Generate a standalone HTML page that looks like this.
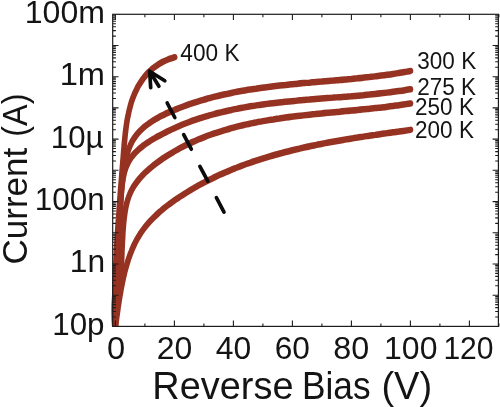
<!DOCTYPE html>
<html lang="en"><head><meta charset="utf-8"><title>Current vs Reverse Bias</title>
<style>html,body{margin:0;padding:0;background:#fff}svg{display:block}</style></head>
<body>
<svg width="500" height="407" viewBox="0 0 500 407">
<rect width="500" height="407" fill="#fff"/>
<clipPath id="pc"><rect x="100" y="0" width="400" height="326.7"/></clipPath>
<g clip-path="url(#pc)"><g fill="none" stroke="#963222" stroke-width="5.6" stroke-linecap="round" stroke-linejoin="round" transform="scale(1,1.1607)">
<path d="M174.7,49.3C173.7,49.6 170.5,50.4 168.6,51.0C166.6,51.7 164.7,52.4 162.9,53.2C161.1,54.0 159.4,54.8 157.8,55.8C156.1,56.7 154.6,57.7 153.1,58.7C151.6,59.8 150.2,60.9 148.8,62.0C147.5,63.2 146.2,64.4 145.0,65.7C143.8,66.9 142.7,68.2 141.7,69.5C140.6,70.9 139.6,72.2 138.7,73.6C137.7,75.0 136.9,76.5 136.1,77.9C135.2,79.4 134.5,80.9 133.8,82.4C133.1,83.9 132.4,85.4 131.8,87.0C131.2,88.5 130.7,90.1 130.2,91.7C129.7,93.3 129.2,94.9 128.8,96.6C128.4,98.2 128.0,99.9 127.6,101.5C127.2,103.2 126.9,104.9 126.6,106.6C126.3,108.3 126.0,110.0 125.8,111.7C125.5,113.4 125.3,115.1 125.1,116.8C124.9,118.5 124.7,120.3 124.5,122.0C124.3,123.7 124.1,125.5 124.0,127.2C123.8,128.9 123.6,130.7 123.5,132.4C123.3,134.1 123.2,135.8 123.0,137.6C122.8,139.3 122.7,141.0 122.5,142.7C122.4,144.4 122.2,146.1 122.0,147.8C121.9,149.5 121.7,151.3 121.6,153.0C121.4,154.7 121.3,156.3 121.1,158.0C120.9,159.7 120.8,161.4 120.6,163.1C120.5,164.8 120.3,166.5 120.2,168.2C120.0,169.9 119.9,171.5 119.7,173.2C119.6,174.9 119.4,176.6 119.3,178.3C119.2,179.9 119.0,181.6 118.9,183.3C118.7,185.0 118.6,186.6 118.5,188.3C118.3,190.0 118.2,191.6 118.1,193.3C117.9,195.0 117.8,196.7 117.7,198.3C117.6,200.0 117.4,201.7 117.3,203.3C117.2,205.0 117.1,206.7 117.0,208.3C116.9,210.0 116.8,211.7 116.6,213.3C116.5,215.0 116.4,216.7 116.3,218.3C116.2,220.0 116.1,221.7 116.1,223.3C116.0,225.0 115.9,226.7 115.8,228.4C115.7,230.0 115.6,231.7 115.6,233.4C115.5,235.1 115.4,236.7 115.3,238.4C115.3,240.1 115.2,241.8 115.2,243.4C115.1,245.1 115.0,246.8 115.0,248.5C115.0,250.2 114.9,251.9 114.9,253.6C114.8,255.3 114.8,256.9 114.8,258.6C114.7,260.3 114.7,262.0 114.7,263.7C114.7,265.4 114.7,267.1 114.7,268.8C114.7,270.6 114.7,272.3 114.7,274.0C114.7,275.7 114.7,277.4 114.7,279.1C114.7,280.9 114.8,283.4 114.8,284.3"/>
<path d="M410.5,61.2C409.5,61.3 406.6,61.8 404.6,62.1C402.7,62.4 400.7,62.6 398.8,62.9C396.8,63.2 394.9,63.5 392.9,63.7C390.9,64.0 389.0,64.2 387.0,64.4C385.0,64.7 383.1,64.9 381.1,65.1C379.1,65.3 377.1,65.6 375.2,65.8C373.2,66.0 371.2,66.2 369.2,66.4C367.2,66.5 365.3,66.7 363.3,66.9C361.3,67.1 359.3,67.3 357.3,67.4C355.3,67.6 353.3,67.8 351.4,68.0C349.4,68.1 347.4,68.3 345.4,68.4C343.4,68.6 341.4,68.8 339.4,68.9C337.4,69.1 335.4,69.2 333.4,69.4C331.4,69.5 329.4,69.7 327.5,69.8C325.5,70.0 323.5,70.1 321.5,70.3C319.5,70.4 317.5,70.6 315.5,70.7C313.5,70.9 311.5,71.0 309.5,71.2C307.5,71.3 305.5,71.5 303.5,71.6C301.5,71.8 299.5,72.0 297.5,72.1C295.6,72.3 293.6,72.4 291.6,72.6C289.6,72.8 287.6,73.0 285.6,73.2C283.6,73.3 281.6,73.5 279.6,73.7C277.7,73.9 275.7,74.1 273.7,74.3C271.7,74.5 269.7,74.7 267.8,75.0C265.8,75.2 263.8,75.4 261.8,75.6C259.8,75.9 257.9,76.1 255.9,76.4C253.9,76.6 252.0,76.9 250.0,77.2C248.0,77.4 246.1,77.7 244.1,78.0C242.1,78.3 240.2,78.6 238.2,78.9C236.3,79.2 234.3,79.6 232.4,79.9C230.4,80.2 228.5,80.6 226.5,81.0C224.6,81.3 222.6,81.7 220.7,82.1C218.8,82.5 216.8,82.9 214.9,83.3C213.0,83.7 211.0,84.2 209.1,84.6C207.2,85.1 205.3,85.5 203.4,86.0C201.5,86.5 199.5,87.0 197.6,87.5C195.7,88.0 193.8,88.5 191.9,89.1C190.0,89.6 188.1,90.2 186.2,90.8C184.4,91.4 182.5,92.0 180.6,92.6C178.7,93.2 176.8,93.9 175.0,94.5C173.1,95.2 171.2,95.9 169.4,96.6C167.5,97.3 165.7,98.0 163.9,98.8C162.1,99.6 160.3,100.3 158.5,101.2C156.8,102.0 155.0,102.8 153.4,103.7C151.7,104.6 150.1,105.6 148.5,106.6C146.9,107.5 145.4,108.5 143.9,109.6C142.5,110.7 141.1,111.8 139.8,113.0C138.5,114.2 137.2,115.4 136.1,116.7C135.0,117.9 133.9,119.3 132.9,120.7C132.0,122.1 131.1,123.6 130.3,125.1C129.5,126.6 128.8,128.2 128.2,129.8C127.6,131.4 127.1,133.1 126.6,134.8C126.1,136.4 125.7,138.2 125.3,139.9C124.9,141.6 124.5,143.3 124.2,145.1C123.9,146.8 123.6,148.5 123.3,150.3C123.0,152.0 122.8,153.8 122.5,155.5C122.3,157.2 122.1,159.0 121.9,160.7C121.7,162.5 121.6,164.2 121.4,165.9C121.2,167.7 121.1,169.4 121.0,171.2C120.8,172.9 120.7,174.6 120.6,176.4C120.5,178.1 120.4,179.8 120.3,181.6C120.2,183.3 120.1,185.0 120.0,186.8C119.9,188.5 119.8,190.2 119.7,191.9C119.6,193.7 119.5,195.4 119.4,197.1C119.3,198.8 119.1,200.5 119.0,202.3C118.9,204.0 118.8,205.7 118.6,207.4C118.5,209.1 118.4,210.8 118.2,212.5C118.1,214.2 117.9,215.9 117.8,217.6C117.6,219.3 117.4,221.0 117.3,222.7C117.1,224.4 117.0,226.1 116.8,227.7C116.7,229.4 116.5,231.1 116.3,232.8C116.2,234.5 116.0,236.2 115.9,237.9C115.8,239.6 115.6,241.3 115.5,243.0C115.4,244.7 115.2,246.4 115.1,248.1C115.0,249.8 114.9,251.5 114.8,253.2C114.7,254.9 114.7,256.6 114.6,258.3C114.5,260.0 114.5,261.7 114.4,263.4C114.4,265.2 114.4,266.9 114.4,268.6C114.4,270.3 114.4,272.1 114.5,273.8C114.5,275.5 114.6,277.3 114.7,279.0C114.8,280.8 114.9,283.4 115.0,284.3"/>
<path d="M410.5,76.9C409.5,77.0 406.6,77.4 404.7,77.7C402.7,78.0 400.8,78.2 398.8,78.4C396.9,78.7 394.9,78.9 393.0,79.1C391.0,79.4 389.1,79.6 387.1,79.8C385.1,80.0 383.1,80.2 381.2,80.4C379.2,80.6 377.2,80.8 375.2,80.9C373.2,81.1 371.3,81.3 369.3,81.5C367.3,81.6 365.3,81.8 363.3,82.0C361.3,82.1 359.3,82.3 357.3,82.4C355.3,82.6 353.3,82.7 351.3,82.9C349.3,83.0 347.3,83.2 345.3,83.3C343.3,83.4 341.3,83.6 339.3,83.7C337.3,83.8 335.2,84.0 333.2,84.1C331.2,84.3 329.2,84.4 327.2,84.5C325.2,84.7 323.2,84.8 321.2,84.9C319.1,85.1 317.1,85.2 315.1,85.3C313.1,85.5 311.1,85.6 309.1,85.8C307.1,85.9 305.0,86.1 303.0,86.2C301.0,86.4 299.0,86.5 297.0,86.7C295.0,86.9 293.0,87.0 291.0,87.2C289.0,87.4 287.0,87.5 284.9,87.7C282.9,87.9 280.9,88.1 278.9,88.3C276.9,88.5 274.9,88.7 272.9,88.9C270.9,89.1 269.0,89.3 267.0,89.5C265.0,89.8 263.0,90.0 261.0,90.2C259.0,90.5 257.0,90.7 255.1,91.0C253.1,91.3 251.1,91.5 249.1,91.8C247.2,92.1 245.2,92.4 243.2,92.7C241.3,93.0 239.3,93.3 237.3,93.7C235.4,94.0 233.4,94.3 231.5,94.7C229.6,95.0 227.6,95.4 225.7,95.8C223.7,96.2 221.8,96.6 219.9,97.0C218.0,97.4 216.0,97.8 214.1,98.3C212.2,98.7 210.3,99.2 208.4,99.7C206.5,100.1 204.6,100.6 202.7,101.1C200.8,101.6 198.9,102.2 197.1,102.7C195.2,103.3 193.3,103.8 191.4,104.4C189.6,105.0 187.7,105.6 185.9,106.2C184.0,106.8 182.2,107.5 180.4,108.1C178.5,108.8 176.7,109.5 174.9,110.2C173.1,110.9 171.2,111.6 169.4,112.4C167.6,113.1 165.9,113.9 164.1,114.7C162.3,115.5 160.5,116.3 158.7,117.1C157.0,118.0 155.2,118.8 153.5,119.7C151.7,120.6 150.0,121.5 148.3,122.5C146.6,123.4 145.0,124.4 143.4,125.4C141.8,126.5 140.2,127.5 138.8,128.6C137.3,129.8 135.9,130.9 134.6,132.1C133.3,133.4 132.1,134.6 131.0,136.0C129.9,137.3 128.9,138.7 128.1,140.2C127.2,141.6 126.5,143.2 125.8,144.7C125.2,146.3 124.6,147.9 124.1,149.6C123.7,151.2 123.3,152.9 122.9,154.7C122.6,156.4 122.3,158.1 122.1,159.9C121.8,161.6 121.6,163.4 121.4,165.2C121.3,166.9 121.1,168.7 121.0,170.5C120.8,172.3 120.7,174.0 120.6,175.8C120.4,177.6 120.3,179.3 120.2,181.1C120.1,182.8 120.0,184.6 119.9,186.3C119.8,188.1 119.7,189.8 119.6,191.6C119.5,193.3 119.4,195.0 119.3,196.8C119.2,198.5 119.1,200.2 119.0,202.0C118.9,203.7 118.8,205.4 118.7,207.1C118.6,208.8 118.4,210.6 118.3,212.3C118.2,214.0 118.0,215.7 117.9,217.4C117.7,219.1 117.6,220.8 117.4,222.5C117.3,224.2 117.1,225.9 117.0,227.6C116.8,229.3 116.6,231.0 116.5,232.7C116.3,234.4 116.2,236.1 116.0,237.8C115.9,239.5 115.7,241.2 115.6,242.9C115.5,244.6 115.3,246.3 115.2,248.0C115.1,249.7 115.0,251.4 114.9,253.1C114.8,254.8 114.7,256.5 114.7,258.2C114.6,260.0 114.5,261.7 114.5,263.4C114.5,265.1 114.4,266.8 114.4,268.6C114.4,270.3 114.5,272.0 114.5,273.8C114.5,275.5 114.6,277.3 114.7,279.0C114.8,280.8 114.9,283.4 115.0,284.3"/>
<path d="M410.5,89.1C409.5,89.2 406.7,89.6 404.8,89.9C402.8,90.1 400.9,90.4 399.0,90.6C397.0,90.8 395.1,91.1 393.2,91.3C391.2,91.5 389.3,91.7 387.3,91.9C385.3,92.2 383.4,92.4 381.4,92.6C379.4,92.8 377.5,92.9 375.5,93.1C373.5,93.3 371.5,93.5 369.6,93.7C367.6,93.9 365.6,94.0 363.6,94.2C361.6,94.4 359.6,94.6 357.6,94.7C355.6,94.9 353.6,95.1 351.6,95.2C349.6,95.4 347.6,95.6 345.6,95.7C343.6,95.9 341.6,96.1 339.6,96.2C337.6,96.4 335.6,96.5 333.6,96.7C331.6,96.9 329.5,97.0 327.5,97.2C325.5,97.4 323.5,97.6 321.5,97.7C319.5,97.9 317.5,98.1 315.4,98.3C313.4,98.4 311.4,98.6 309.4,98.8C307.4,99.0 305.4,99.2 303.4,99.4C301.4,99.6 299.4,99.8 297.4,100.0C295.3,100.2 293.3,100.4 291.3,100.6C289.3,100.9 287.3,101.1 285.3,101.3C283.3,101.6 281.3,101.8 279.4,102.1C277.4,102.3 275.4,102.6 273.4,102.9C271.4,103.1 269.4,103.4 267.4,103.7C265.5,104.0 263.5,104.3 261.5,104.6C259.5,104.9 257.6,105.2 255.6,105.6C253.7,105.9 251.7,106.3 249.8,106.6C247.8,107.0 245.9,107.3 243.9,107.7C242.0,108.1 240.1,108.5 238.1,108.9C236.2,109.3 234.3,109.8 232.4,110.2C230.5,110.7 228.6,111.1 226.7,111.6C224.8,112.1 222.9,112.6 221.0,113.1C219.1,113.6 217.2,114.1 215.4,114.6C213.5,115.2 211.6,115.7 209.8,116.3C207.9,116.9 206.1,117.5 204.3,118.1C202.4,118.7 200.6,119.3 198.8,120.0C197.0,120.7 195.2,121.3 193.4,122.0C191.6,122.7 189.8,123.4 188.0,124.2C186.3,124.9 184.5,125.7 182.7,126.4C181.0,127.2 179.2,128.0 177.5,128.9C175.8,129.7 174.1,130.5 172.4,131.4C170.7,132.3 169.0,133.2 167.3,134.1C165.6,135.0 163.9,136.0 162.3,136.9C160.6,137.9 159.0,138.9 157.3,140.0C155.7,141.0 154.1,142.0 152.6,143.1C151.0,144.2 149.5,145.3 148.0,146.5C146.5,147.6 145.0,148.8 143.6,150.0C142.3,151.2 140.9,152.5 139.6,153.8C138.4,155.1 137.2,156.4 136.0,157.8C134.9,159.1 133.8,160.5 132.8,162.0C131.9,163.4 131.0,164.9 130.2,166.4C129.4,168.0 128.7,169.6 128.1,171.2C127.5,172.8 126.9,174.5 126.5,176.1C126.0,177.8 125.6,179.5 125.3,181.2C124.9,183.0 124.7,184.7 124.4,186.4C124.1,188.2 123.9,189.9 123.7,191.7C123.5,193.4 123.4,195.2 123.2,196.9C123.0,198.6 122.9,200.4 122.8,202.1C122.7,203.9 122.6,205.6 122.5,207.3C122.3,209.1 122.3,210.8 122.2,212.5C122.1,214.2 122.0,216.0 121.9,217.7C121.9,219.4 121.8,221.2 121.7,222.9C121.6,224.6 121.5,226.3 121.4,228.0C121.3,229.7 121.2,231.5 121.1,233.2C121.0,234.9 120.8,236.6 120.7,238.3C120.5,240.0 120.4,241.7 120.2,243.4C120.0,245.1 119.8,246.8 119.5,248.5C119.3,250.2 119.1,251.9 118.8,253.6C118.6,255.2 118.3,256.9 118.1,258.6C117.9,260.3 117.6,262.0 117.4,263.7C117.1,265.4 116.9,267.1 116.7,268.8C116.5,270.5 116.3,272.2 116.1,273.9C115.9,275.7 115.7,277.4 115.6,279.1C115.5,280.8 115.4,283.4 115.3,284.3"/>
<path d="M410.5,111.9C409.5,112.0 406.6,112.3 404.7,112.6C402.7,112.8 400.8,113.0 398.8,113.3C396.8,113.5 394.9,113.8 392.9,114.0C391.0,114.2 389.0,114.5 387.1,114.7C385.1,114.9 383.2,115.2 381.2,115.4C379.2,115.7 377.3,115.9 375.3,116.2C373.4,116.4 371.4,116.7 369.4,116.9C367.5,117.2 365.5,117.4 363.6,117.7C361.6,118.0 359.6,118.2 357.7,118.5C355.7,118.7 353.8,119.0 351.8,119.3C349.8,119.6 347.9,119.8 345.9,120.1C344.0,120.4 342.0,120.7 340.1,121.0C338.1,121.3 336.2,121.6 334.2,121.9C332.3,122.2 330.3,122.5 328.4,122.8C326.4,123.1 324.5,123.5 322.5,123.8C320.6,124.1 318.6,124.5 316.7,124.8C314.8,125.1 312.8,125.5 310.9,125.8C308.9,126.2 307.0,126.6 305.1,126.9C303.1,127.3 301.2,127.7 299.3,128.1C297.4,128.4 295.4,128.8 293.5,129.2C291.6,129.6 289.7,130.1 287.8,130.5C285.9,130.9 284.0,131.3 282.0,131.8C280.1,132.2 278.2,132.7 276.3,133.1C274.4,133.6 272.5,134.0 270.7,134.5C268.8,135.0 266.9,135.5 265.0,136.0C263.1,136.5 261.2,137.0 259.4,137.5C257.5,138.0 255.6,138.6 253.8,139.1C251.9,139.7 250.0,140.2 248.2,140.8C246.3,141.3 244.5,141.9 242.6,142.5C240.8,143.1 239.0,143.7 237.1,144.3C235.3,144.9 233.5,145.6 231.6,146.2C229.8,146.9 228.0,147.5 226.2,148.2C224.4,148.9 222.6,149.6 220.8,150.2C219.0,150.9 217.2,151.7 215.4,152.4C213.6,153.1 211.9,153.9 210.1,154.6C208.3,155.4 206.6,156.1 204.8,156.9C203.0,157.7 201.3,158.5 199.5,159.3C197.8,160.2 196.1,161.0 194.3,161.9C192.6,162.7 190.9,163.6 189.2,164.5C187.5,165.4 185.8,166.3 184.1,167.2C182.4,168.1 180.7,169.0 179.0,170.0C177.3,170.9 175.7,171.9 174.0,172.9C172.4,173.9 170.8,174.9 169.2,176.0C167.5,177.0 166.0,178.0 164.4,179.1C162.9,180.2 161.3,181.3 159.8,182.4C158.3,183.6 156.9,184.7 155.5,185.9C154.0,187.0 152.6,188.2 151.3,189.5C150.0,190.7 148.7,191.9 147.4,193.2C146.1,194.5 144.9,195.8 143.8,197.1C142.6,198.5 141.5,199.8 140.4,201.2C139.4,202.6 138.4,204.0 137.4,205.5C136.5,206.9 135.6,208.4 134.7,209.9C133.9,211.4 133.1,212.9 132.3,214.5C131.6,216.0 130.8,217.6 130.1,219.2C129.5,220.7 128.8,222.3 128.2,224.0C127.6,225.6 127.0,227.2 126.5,228.8C125.9,230.5 125.4,232.1 124.9,233.8C124.4,235.5 124.0,237.1 123.5,238.8C123.1,240.5 122.7,242.2 122.3,243.9C121.9,245.6 121.5,247.3 121.1,249.0C120.8,250.7 120.4,252.4 120.1,254.1C119.7,255.8 119.4,257.5 119.1,259.2C118.8,260.9 118.5,262.6 118.2,264.3C117.9,266.0 117.7,267.6 117.4,269.3C117.1,271.0 116.8,272.7 116.6,274.4C116.3,276.0 116.1,277.7 115.8,279.4C115.6,281.0 115.2,283.5 115.1,284.3"/>
</g></g>
<path d="M115.4,326.4v-5.8M115.4,14.3v5.8M144.9,326.4v-3.0M144.9,14.3v3.0M174.4,326.4v-5.8M174.4,14.3v5.8M203.9,326.4v-3.0M203.9,14.3v3.0M233.4,326.4v-5.8M233.4,14.3v5.8M262.9,326.4v-3.0M262.9,14.3v3.0M292.4,326.4v-5.8M292.4,14.3v5.8M321.9,326.4v-3.0M321.9,14.3v3.0M351.4,326.4v-5.8M351.4,14.3v5.8M380.9,326.4v-3.0M380.9,14.3v3.0M410.4,326.4v-5.8M410.4,14.3v5.8M439.9,326.4v-3.0M439.9,14.3v3.0M469.4,326.4v-5.8M469.4,14.3v5.8M498.9,326.4v-3.0M498.9,14.3v3.0M112.7,317.0h3.2M498.4,317.0h-3.2M112.7,311.5h3.2M498.4,311.5h-3.2M112.7,307.6h3.2M498.4,307.6h-3.2M112.7,304.6h3.2M498.4,304.6h-3.2M112.7,302.1h3.2M498.4,302.1h-3.2M112.7,300.0h3.2M498.4,300.0h-3.2M112.7,298.2h3.2M498.4,298.2h-3.2M112.7,296.6h3.2M498.4,296.6h-3.2M112.7,295.2h5.8M498.4,295.2h-5.8M112.7,285.8h3.2M498.4,285.8h-3.2M112.7,280.3h3.2M498.4,280.3h-3.2M112.7,276.4h3.2M498.4,276.4h-3.2M112.7,273.4h3.2M498.4,273.4h-3.2M112.7,270.9h3.2M498.4,270.9h-3.2M112.7,268.8h3.2M498.4,268.8h-3.2M112.7,267.0h3.2M498.4,267.0h-3.2M112.7,265.4h3.2M498.4,265.4h-3.2M112.7,264.0h5.8M498.4,264.0h-5.8M112.7,254.6h3.2M498.4,254.6h-3.2M112.7,249.1h3.2M498.4,249.1h-3.2M112.7,245.2h3.2M498.4,245.2h-3.2M112.7,242.2h3.2M498.4,242.2h-3.2M112.7,239.7h3.2M498.4,239.7h-3.2M112.7,237.6h3.2M498.4,237.6h-3.2M112.7,235.8h3.2M498.4,235.8h-3.2M112.7,234.2h3.2M498.4,234.2h-3.2M112.7,232.8h5.8M498.4,232.8h-5.8M112.7,223.4h3.2M498.4,223.4h-3.2M112.7,217.9h3.2M498.4,217.9h-3.2M112.7,214.0h3.2M498.4,214.0h-3.2M112.7,211.0h3.2M498.4,211.0h-3.2M112.7,208.5h3.2M498.4,208.5h-3.2M112.7,206.4h3.2M498.4,206.4h-3.2M112.7,204.6h3.2M498.4,204.6h-3.2M112.7,203.0h3.2M498.4,203.0h-3.2M112.7,201.6h5.8M498.4,201.6h-5.8M112.7,192.2h3.2M498.4,192.2h-3.2M112.7,186.7h3.2M498.4,186.7h-3.2M112.7,182.8h3.2M498.4,182.8h-3.2M112.7,179.7h3.2M498.4,179.7h-3.2M112.7,177.3h3.2M498.4,177.3h-3.2M112.7,175.2h3.2M498.4,175.2h-3.2M112.7,173.4h3.2M498.4,173.4h-3.2M112.7,171.8h3.2M498.4,171.8h-3.2M112.7,170.3h5.8M498.4,170.3h-5.8M112.7,161.0h3.2M498.4,161.0h-3.2M112.7,155.5h3.2M498.4,155.5h-3.2M112.7,151.6h3.2M498.4,151.6h-3.2M112.7,148.5h3.2M498.4,148.5h-3.2M112.7,146.1h3.2M498.4,146.1h-3.2M112.7,144.0h3.2M498.4,144.0h-3.2M112.7,142.2h3.2M498.4,142.2h-3.2M112.7,140.6h3.2M498.4,140.6h-3.2M112.7,139.1h5.8M498.4,139.1h-5.8M112.7,129.7h3.2M498.4,129.7h-3.2M112.7,124.2h3.2M498.4,124.2h-3.2M112.7,120.3h3.2M498.4,120.3h-3.2M112.7,117.3h3.2M498.4,117.3h-3.2M112.7,114.9h3.2M498.4,114.9h-3.2M112.7,112.8h3.2M498.4,112.8h-3.2M112.7,111.0h3.2M498.4,111.0h-3.2M112.7,109.4h3.2M498.4,109.4h-3.2M112.7,107.9h5.8M498.4,107.9h-5.8M112.7,98.5h3.2M498.4,98.5h-3.2M112.7,93.0h3.2M498.4,93.0h-3.2M112.7,89.1h3.2M498.4,89.1h-3.2M112.7,86.1h3.2M498.4,86.1h-3.2M112.7,83.6h3.2M498.4,83.6h-3.2M112.7,81.6h3.2M498.4,81.6h-3.2M112.7,79.7h3.2M498.4,79.7h-3.2M112.7,78.1h3.2M498.4,78.1h-3.2M112.7,76.7h5.8M498.4,76.7h-5.8M112.7,67.3h3.2M498.4,67.3h-3.2M112.7,61.8h3.2M498.4,61.8h-3.2M112.7,57.9h3.2M498.4,57.9h-3.2M112.7,54.9h3.2M498.4,54.9h-3.2M112.7,52.4h3.2M498.4,52.4h-3.2M112.7,50.3h3.2M498.4,50.3h-3.2M112.7,48.5h3.2M498.4,48.5h-3.2M112.7,46.9h3.2M498.4,46.9h-3.2M112.7,45.5h5.8M498.4,45.5h-5.8M112.7,36.1h3.2M498.4,36.1h-3.2M112.7,30.6h3.2M498.4,30.6h-3.2M112.7,26.7h3.2M498.4,26.7h-3.2M112.7,23.7h3.2M498.4,23.7h-3.2M112.7,21.2h3.2M498.4,21.2h-3.2M112.7,19.1h3.2M498.4,19.1h-3.2M112.7,17.3h3.2M498.4,17.3h-3.2M112.7,15.7h3.2M498.4,15.7h-3.2" stroke="#1c1c1c" stroke-width="1.1" fill="none"/>
<rect x="112.7" y="14.3" width="385.7" height="312.1" fill="none" stroke="#1c1c1c" stroke-width="1.2"/>
<path d="M167.2,103L174.8,117.5M183.7,134.7L191.3,149.2M199.9,166.4L207.8,181.2M216.4,197.7L224,212.1M149.6,71.2L158.9,86.2M150.7,87.6L149.6,71.2L164.8,80.8" fill="none" stroke="#0c0c0c" stroke-width="3.7" stroke-linecap="round" stroke-linejoin="round"/>
<g font-family="'Liberation Sans', sans-serif" fill="#141414">
<text transform="translate(24.75,22.80) scale(1.0268,1)" font-size="31.25">100m</text>
<text transform="translate(59.72,85.20) scale(1.0445,1)" font-size="31.25">1m</text>
<text transform="translate(50.82,147.60) scale(0.9986,1)" font-size="31.25">10µ</text>
<text transform="translate(34.80,210.00) scale(1.0065,1)" font-size="31.25">100n</text>
<text transform="translate(69.78,272.40) scale(1.0157,1)" font-size="31.25">1n</text>
<text transform="translate(52.20,334.80) scale(1.0036,1)" font-size="31.25">10p</text>
<text transform="translate(107.02,358.50) scale(1.0402,1)" font-size="31.39">0</text>
<text transform="translate(156.70,358.50) scale(1.0182,1)" font-size="31.39">20</text>
<text transform="translate(215.66,358.50) scale(1.0164,1)" font-size="31.39">40</text>
<text transform="translate(274.72,358.50) scale(1.0089,1)" font-size="31.39">60</text>
<text transform="translate(333.21,358.50) scale(1.0299,1)" font-size="31.39">80</text>
<text transform="translate(384.06,358.50) scale(1.0195,1)" font-size="31.39">100</text>
<text transform="translate(443.39,358.50) scale(0.9583,1)" font-size="31.39">120</text>
<text transform="translate(152.26,398.60) scale(0.9965,1)" font-size="38.08">Reverse</text>
<text transform="translate(301.98,398.60) scale(0.9257,1)" font-size="38.08">Bias</text>
<text transform="translate(381.41,398.60) scale(1.0009,1)" font-size="38.08">(V)</text>
<text transform="translate(180.35,61.40) scale(0.9439,1)" font-size="24.01">400 K</text>
<text transform="translate(417.32,69.20) scale(0.9548,1)" font-size="23.58">300 K</text>
<text transform="translate(417.27,94.70) scale(0.9442,1)" font-size="23.86">275 K</text>
<text transform="translate(415.07,114.80) scale(0.9556,1)" font-size="23.58">250 K</text>
<text transform="translate(415.07,137.60) scale(0.9556,1)" font-size="23.58">200 K</text>
<text transform="translate(26.80,264.45) rotate(-90) scale(0.9907,1)" font-size="35.32">Current</text>
<text transform="translate(26.80,136.74) rotate(-90) scale(0.9167,1)" font-size="35.32">(A)</text>
</g>
</svg>
</body></html>
